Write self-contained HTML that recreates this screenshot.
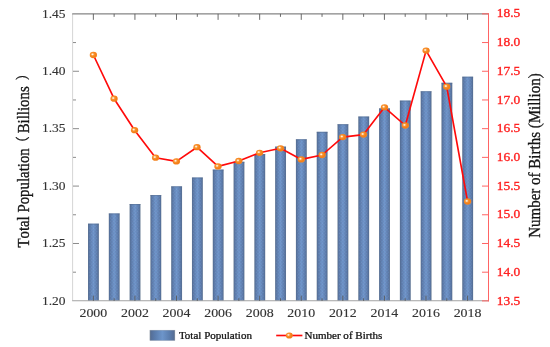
<!DOCTYPE html>
<html><head><meta charset="utf-8"><title>Total Population and Number of Births</title>
<style>
html,body{margin:0;padding:0;background:#fff;}
body{width:550px;height:347px;overflow:hidden;}
svg{display:block;}
text{font-family:"Liberation Serif","Noto Serif CJK SC",serif;}
.tk{font-size:12.3px;fill:#333;stroke:#333;stroke-width:0.12px;}
.tr{font-size:12.3px;fill:#ff2222;stroke:#ff2222;stroke-width:0.32px;}
.ax{font-kerning:none;font-size:14.2px;fill:#151515;stroke:#151515;stroke-width:0.3px;}
.lg{font-size:9.6px;fill:#111;stroke:#111;stroke-width:0.25px;}
</style></head><body>
<svg width="550" height="347" viewBox="0 0 550 347">
<defs>
<linearGradient id="bg" x1="0" y1="0" x2="1" y2="0">
<stop offset="0" stop-color="#647892"/><stop offset="0.06" stop-color="#567099"/><stop offset="0.2" stop-color="#5a7cac"/><stop offset="0.5" stop-color="#6d95ca"/><stop offset="0.8" stop-color="#5a7cac"/><stop offset="0.94" stop-color="#567099"/><stop offset="1" stop-color="#647892"/>
</linearGradient>
<radialGradient id="mg" cx="0.38" cy="0.40" r="0.68">
<stop offset="0" stop-color="#ffffff"/><stop offset="0.13" stop-color="#fde0bd"/><stop offset="0.32" stop-color="#f89432"/><stop offset="0.7" stop-color="#f47d14"/><stop offset="1" stop-color="#f08a30"/>
</radialGradient>
<pattern id="hx" width="2.4" height="2.4" patternUnits="userSpaceOnUse" patternTransform="rotate(45)">
<rect width="1.2" height="1.2" fill="#7d6fa0" opacity="0.22"/><rect x="1.2" y="1.2" width="1.2" height="1.2" fill="#8fb6e6" opacity="0.25"/>
</pattern>
</defs>
<rect width="550" height="347" fill="#fff"/>

<rect x="88.00" y="223.66" width="10.9" height="77.24" fill="url(#bg)"/>
<rect x="89.20" y="224.66" width="8.5" height="76.24" fill="url(#hx)"/>
<rect x="88.00" y="223.66" width="10.9" height="0.9" fill="#55698a" opacity="0.55"/>
<rect x="108.79" y="213.44" width="10.9" height="87.46" fill="url(#bg)"/>
<rect x="109.99" y="214.44" width="8.5" height="86.46" fill="url(#hx)"/>
<rect x="108.79" y="213.44" width="10.9" height="0.9" fill="#55698a" opacity="0.55"/>
<rect x="129.58" y="204.03" width="10.9" height="96.87" fill="url(#bg)"/>
<rect x="130.78" y="205.03" width="8.5" height="95.87" fill="url(#hx)"/>
<rect x="129.58" y="204.03" width="10.9" height="0.9" fill="#55698a" opacity="0.55"/>
<rect x="150.37" y="195.07" width="10.9" height="105.83" fill="url(#bg)"/>
<rect x="151.57" y="196.07" width="8.5" height="104.83" fill="url(#hx)"/>
<rect x="150.37" y="195.07" width="10.9" height="0.9" fill="#55698a" opacity="0.55"/>
<rect x="171.16" y="186.34" width="10.9" height="114.56" fill="url(#bg)"/>
<rect x="172.36" y="187.34" width="8.5" height="113.56" fill="url(#hx)"/>
<rect x="171.16" y="186.34" width="10.9" height="0.9" fill="#55698a" opacity="0.55"/>
<rect x="191.95" y="177.50" width="10.9" height="123.40" fill="url(#bg)"/>
<rect x="193.15" y="178.50" width="8.5" height="122.40" fill="url(#hx)"/>
<rect x="191.95" y="177.50" width="10.9" height="0.9" fill="#55698a" opacity="0.55"/>
<rect x="212.74" y="169.58" width="10.9" height="131.32" fill="url(#bg)"/>
<rect x="213.94" y="170.58" width="8.5" height="130.32" fill="url(#hx)"/>
<rect x="212.74" y="169.58" width="10.9" height="0.9" fill="#55698a" opacity="0.55"/>
<rect x="233.53" y="161.77" width="10.9" height="139.13" fill="url(#bg)"/>
<rect x="234.73" y="162.77" width="8.5" height="138.13" fill="url(#hx)"/>
<rect x="233.53" y="161.77" width="10.9" height="0.9" fill="#55698a" opacity="0.55"/>
<rect x="254.32" y="154.08" width="10.9" height="146.82" fill="url(#bg)"/>
<rect x="255.52" y="155.08" width="8.5" height="145.82" fill="url(#hx)"/>
<rect x="254.32" y="154.08" width="10.9" height="0.9" fill="#55698a" opacity="0.55"/>
<rect x="275.11" y="146.62" width="10.9" height="154.28" fill="url(#bg)"/>
<rect x="276.31" y="147.62" width="8.5" height="153.28" fill="url(#hx)"/>
<rect x="275.11" y="146.62" width="10.9" height="0.9" fill="#55698a" opacity="0.55"/>
<rect x="295.90" y="139.27" width="10.9" height="161.63" fill="url(#bg)"/>
<rect x="297.10" y="140.27" width="8.5" height="160.63" fill="url(#hx)"/>
<rect x="295.90" y="139.27" width="10.9" height="0.9" fill="#55698a" opacity="0.55"/>
<rect x="316.69" y="131.81" width="10.9" height="169.09" fill="url(#bg)"/>
<rect x="317.89" y="132.81" width="8.5" height="168.09" fill="url(#hx)"/>
<rect x="316.69" y="131.81" width="10.9" height="0.9" fill="#55698a" opacity="0.55"/>
<rect x="337.48" y="124.23" width="10.9" height="176.67" fill="url(#bg)"/>
<rect x="338.68" y="125.23" width="8.5" height="175.67" fill="url(#hx)"/>
<rect x="337.48" y="124.23" width="10.9" height="0.9" fill="#55698a" opacity="0.55"/>
<rect x="358.27" y="116.53" width="10.9" height="184.37" fill="url(#bg)"/>
<rect x="359.47" y="117.53" width="8.5" height="183.37" fill="url(#hx)"/>
<rect x="358.27" y="116.53" width="10.9" height="0.9" fill="#55698a" opacity="0.55"/>
<rect x="379.06" y="108.38" width="10.9" height="192.52" fill="url(#bg)"/>
<rect x="380.26" y="109.38" width="8.5" height="191.52" fill="url(#hx)"/>
<rect x="379.06" y="108.38" width="10.9" height="0.9" fill="#55698a" opacity="0.55"/>
<rect x="399.85" y="100.57" width="10.9" height="200.33" fill="url(#bg)"/>
<rect x="401.05" y="101.57" width="8.5" height="199.33" fill="url(#hx)"/>
<rect x="399.85" y="100.57" width="10.9" height="0.9" fill="#55698a" opacity="0.55"/>
<rect x="420.64" y="91.27" width="10.9" height="209.63" fill="url(#bg)"/>
<rect x="421.84" y="92.27" width="8.5" height="208.63" fill="url(#hx)"/>
<rect x="420.64" y="91.27" width="10.9" height="0.9" fill="#55698a" opacity="0.55"/>
<rect x="441.43" y="82.78" width="10.9" height="218.12" fill="url(#bg)"/>
<rect x="442.63" y="83.78" width="8.5" height="217.12" fill="url(#hx)"/>
<rect x="441.43" y="82.78" width="10.9" height="0.9" fill="#55698a" opacity="0.55"/>
<rect x="462.22" y="76.69" width="10.9" height="224.21" fill="url(#bg)"/>
<rect x="463.42" y="77.69" width="8.5" height="223.21" fill="url(#hx)"/>
<rect x="462.22" y="76.69" width="10.9" height="0.9" fill="#55698a" opacity="0.55"/>
<path d="M72.6 300.9V13.85" fill="none" stroke="#d6d6d6" stroke-width="1"/>
<path d="M72.2 13.8H488.5" fill="none" stroke="#858585" stroke-width="1.3"/>
<path d="M72.2 300.7H489.0" fill="none" stroke="#a2a2a2" stroke-width="1.1"/>
<path d="M488.5 13.2V301.4" fill="none" stroke="#ff6464" stroke-width="1"/>
<path d="M93.35 13.85v6M93.35 300.9v-5.28M114.14 13.85v3M114.14 300.9v-2.64M134.93 13.85v6M134.93 300.9v-5.28M155.72 13.85v3M155.72 300.9v-2.64M176.51 13.85v6M176.51 300.9v-5.28M197.30 13.85v3M197.30 300.9v-2.64M218.09 13.85v6M218.09 300.9v-5.28M238.88 13.85v3M238.88 300.9v-2.64M259.67 13.85v6M259.67 300.9v-5.28M280.46 13.85v3M280.46 300.9v-2.64M301.25 13.85v6M301.25 300.9v-5.28M322.04 13.85v3M322.04 300.9v-2.64M342.83 13.85v6M342.83 300.9v-5.28M363.62 13.85v3M363.62 300.9v-2.64M384.41 13.85v6M384.41 300.9v-5.28M405.20 13.85v3M405.20 300.9v-2.64M425.99 13.85v6M425.99 300.9v-5.28M446.78 13.85v3M446.78 300.9v-2.64M467.57 13.85v6M467.57 300.9v-5.28" stroke="#5a5a5a" stroke-width="0.9" fill="none"/>
<path d="M73.0 42.55h3M73.0 71.26h6M73.0 99.96h3M73.0 128.67h6M73.0 157.37h3M73.0 186.08h6M73.0 214.78h3M73.0 243.49h6M73.0 272.19h3" stroke="#6e6e6e" stroke-width="0.8" fill="none"/>
<path d="M488.5 13.85h-6.5M488.5 42.55h-6.5M488.5 71.26h-6.5M488.5 99.96h-6.5M488.5 128.67h-6.5M488.5 157.37h-6.5M488.5 186.08h-6.5M488.5 214.78h-6.5M488.5 243.49h-6.5M488.5 272.19h-6.5M488.5 300.90h-6.5" stroke="#ff6464" stroke-width="1" fill="none"/>
<polyline points="93.4,55.0 114.1,98.7 134.6,130.2 155.6,157.7 176.4,161.4 197.0,147.2 218.0,166.4 238.8,161.0 259.6,152.8 280.5,148.3 301.3,159.4 322.1,155.0 342.7,137.1 363.5,134.6 384.5,107.3 405.3,125.5 426.1,50.6 446.7,86.7 467.6,201.5" fill="none" stroke="#ff0a0a" stroke-width="1.65" stroke-linejoin="round"/>
<ellipse cx="93.4" cy="55.0" rx="3.65" ry="3.15" fill="url(#mg)"/>
<ellipse cx="114.1" cy="98.7" rx="3.65" ry="3.15" fill="url(#mg)"/>
<ellipse cx="134.6" cy="130.2" rx="3.65" ry="3.15" fill="url(#mg)"/>
<ellipse cx="155.6" cy="157.7" rx="3.65" ry="3.15" fill="url(#mg)"/>
<ellipse cx="176.4" cy="161.4" rx="3.65" ry="3.15" fill="url(#mg)"/>
<ellipse cx="197.0" cy="147.2" rx="3.65" ry="3.15" fill="url(#mg)"/>
<ellipse cx="218.0" cy="166.4" rx="3.65" ry="3.15" fill="url(#mg)"/>
<ellipse cx="238.8" cy="161.0" rx="3.65" ry="3.15" fill="url(#mg)"/>
<ellipse cx="259.6" cy="152.8" rx="3.65" ry="3.15" fill="url(#mg)"/>
<ellipse cx="280.5" cy="148.3" rx="3.65" ry="3.15" fill="url(#mg)"/>
<ellipse cx="301.3" cy="159.4" rx="3.65" ry="3.15" fill="url(#mg)"/>
<ellipse cx="322.1" cy="155.0" rx="3.65" ry="3.15" fill="url(#mg)"/>
<ellipse cx="342.7" cy="137.1" rx="3.65" ry="3.15" fill="url(#mg)"/>
<ellipse cx="363.5" cy="134.6" rx="3.65" ry="3.15" fill="url(#mg)"/>
<ellipse cx="384.5" cy="107.3" rx="3.65" ry="3.15" fill="url(#mg)"/>
<ellipse cx="405.3" cy="125.5" rx="3.65" ry="3.15" fill="url(#mg)"/>
<ellipse cx="426.1" cy="50.6" rx="3.65" ry="3.15" fill="url(#mg)"/>
<ellipse cx="446.7" cy="86.7" rx="3.65" ry="3.15" fill="url(#mg)"/>
<ellipse cx="467.6" cy="201.5" rx="3.65" ry="3.15" fill="url(#mg)"/>
<text class="tk" text-anchor="end" transform="translate(65.5,17.55) scale(1.095,1)">1.45</text>
<text class="tk" text-anchor="end" transform="translate(65.5,74.96) scale(1.095,1)">1.40</text>
<text class="tk" text-anchor="end" transform="translate(65.5,132.37) scale(1.095,1)">1.35</text>
<text class="tk" text-anchor="end" transform="translate(65.5,189.78) scale(1.095,1)">1.30</text>
<text class="tk" text-anchor="end" transform="translate(65.5,247.19) scale(1.095,1)">1.25</text>
<text class="tk" text-anchor="end" transform="translate(65.5,304.60) scale(1.095,1)">1.20</text>
<text class="tr" transform="translate(496.7,17.45) scale(1.095,1)">18.5</text>
<text class="tr" transform="translate(496.7,46.15) scale(1.095,1)">18.0</text>
<text class="tr" transform="translate(496.7,74.86) scale(1.095,1)">17.5</text>
<text class="tr" transform="translate(496.7,103.56) scale(1.095,1)">17.0</text>
<text class="tr" transform="translate(496.7,132.27) scale(1.095,1)">16.5</text>
<text class="tr" transform="translate(496.7,160.97) scale(1.095,1)">16.0</text>
<text class="tr" transform="translate(496.7,189.68) scale(1.095,1)">15.5</text>
<text class="tr" transform="translate(496.7,218.38) scale(1.095,1)">15.0</text>
<text class="tr" transform="translate(496.7,247.09) scale(1.095,1)">14.5</text>
<text class="tr" transform="translate(496.7,275.80) scale(1.095,1)">14.0</text>
<text class="tr" transform="translate(496.7,304.50) scale(1.095,1)">13.5</text>
<text class="tk" style="font-size:12.9px" text-anchor="middle" transform="translate(93.35,316.6) scale(1.08,1)">2000</text>
<text class="tk" style="font-size:12.9px" text-anchor="middle" transform="translate(134.93,316.6) scale(1.08,1)">2002</text>
<text class="tk" style="font-size:12.9px" text-anchor="middle" transform="translate(176.51,316.6) scale(1.08,1)">2004</text>
<text class="tk" style="font-size:12.9px" text-anchor="middle" transform="translate(218.09,316.6) scale(1.08,1)">2006</text>
<text class="tk" style="font-size:12.9px" text-anchor="middle" transform="translate(259.67,316.6) scale(1.08,1)">2008</text>
<text class="tk" style="font-size:12.9px" text-anchor="middle" transform="translate(301.25,316.6) scale(1.08,1)">2010</text>
<text class="tk" style="font-size:12.9px" text-anchor="middle" transform="translate(342.83,316.6) scale(1.08,1)">2012</text>
<text class="tk" style="font-size:12.9px" text-anchor="middle" transform="translate(384.41,316.6) scale(1.08,1)">2014</text>
<text class="tk" style="font-size:12.9px" text-anchor="middle" transform="translate(425.99,316.6) scale(1.08,1)">2016</text>
<text class="tk" style="font-size:12.9px" text-anchor="middle" transform="translate(467.57,316.6) scale(1.08,1)">2018</text>
<text class="ax" style="font-size:14.85px" transform="translate(29.3,247.6) rotate(-90) scale(1,1.19)">Total Population<tspan x="99.3" dy="-1.6" style="font-size:11.9px">（</tspan><tspan x="114.3" dy="1.6">Billions </tspan><tspan x="167.4" dy="-2" style="font-size:11.9px">）</tspan></text>
<text class="ax" style="font-size:15px" transform="translate(539.7,237.8) rotate(-90) scale(1,1.15)">Number of Births (Million)</text>
<rect x="149.9" y="330.2" width="25.0" height="10.3" fill="url(#bg)" stroke="#7c8796" stroke-opacity="0.6" stroke-width="0.5"/>
<text class="lg" transform="translate(178.9,338.7) scale(1.15,1)">Total Population</text>
<path d="M276.2 335.5H302.4" stroke="#ff0a0a" stroke-width="1.65"/>
<ellipse cx="289.3" cy="335.5" rx="3.5" ry="3.1" fill="url(#mg)"/>
<text class="lg" transform="translate(304.5,338.9) scale(1.15,1)">Number of Births</text>
</svg></body></html>
